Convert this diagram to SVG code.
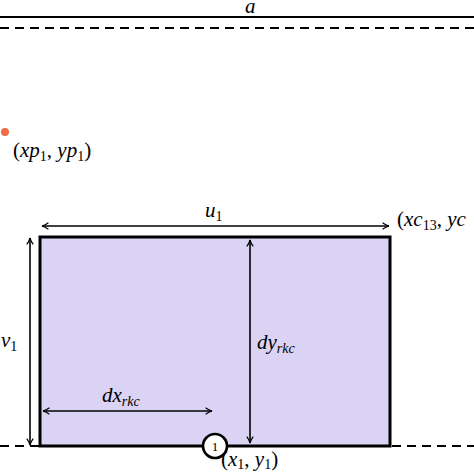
<svg xmlns="http://www.w3.org/2000/svg" width="474" height="474" viewBox="0 0 474 474">
<style>
.m{font-family:"Liberation Serif","DejaVu Serif",serif;font-style:italic;font-size:21px;fill:#000}
.u{font-style:normal}
.s{font-size:14px;font-style:normal}
.si{font-size:14px}
.dim{stroke:#000;stroke-width:1.6;fill:none}
.dash{stroke:#000;stroke-width:2.2;stroke-dasharray:9,6;fill:none}
</style>
<defs>
<marker id="ah" viewBox="0 0 10 10" refX="9" refY="5" markerWidth="8" markerHeight="8" orient="auto-start-reverse" markerUnits="userSpaceOnUse">
<path d="M1,1 Q5,4 9,5 Q5,6 1,9" fill="none" stroke="#000" stroke-width="1.5"/>
</marker>
</defs>
<rect width="474" height="474" fill="#fff"/>
<g id="lines">
<line x1="0" y1="17" x2="474" y2="17" stroke="#000" stroke-width="2"/>
<line x1="0" y1="28" x2="474" y2="28" class="dash"/>
<line x1="0" y1="446" x2="40" y2="446" class="dash"/>
<line x1="392" y1="446" x2="474" y2="446" class="dash"/>
</g>
<text class="m" x="245" y="13">a</text>
<g id="point-p1">
<circle cx="5" cy="132" r="4" fill="#ef6a45"/>
<text class="m" x="13" y="157"><tspan class="u">(</tspan>xp<tspan class="s" dy="4">1</tspan><tspan dy="-4" class="u">, </tspan>yp<tspan class="s" dy="4">1</tspan><tspan dy="-4" class="u">)</tspan></text>
</g>
<g id="rect1">
<rect x="40" y="237" width="350" height="209" fill="#dbd3f3" stroke="#000" stroke-width="3"/>
</g>
<g id="connectors">
<line class="dim" x1="42" y1="226" x2="389" y2="226" marker-start="url(#ah)" marker-end="url(#ah)"/>
<line class="dim" x1="30" y1="238" x2="30" y2="445" marker-start="url(#ah)" marker-end="url(#ah)"/>
<line class="dim" x1="250" y1="240" x2="250" y2="443" marker-start="url(#ah)" marker-end="url(#ah)"/>
<line class="dim" x1="43" y1="411" x2="212" y2="411" marker-start="url(#ah)" marker-end="url(#ah)"/>
</g>
<text class="m" x="205" y="217">u<tspan class="s" dy="4">1</tspan></text>
<text class="m" x="397" y="226"><tspan class="u">(</tspan>xc<tspan class="s" dy="4">13</tspan><tspan dy="-4" class="u">, </tspan>yc</text>
<text class="m" x="1" y="347">v<tspan class="s" dy="4">1</tspan></text>
<text class="m" x="257" y="349">dy<tspan class="si" dy="4">rkc</tspan></text>
<text class="m" x="102" y="402">dx<tspan class="si" dy="4">rkc</tspan></text>
<g id="node1">
<circle cx="215" cy="446" r="12" fill="#fff" stroke="#000" stroke-width="2.6"/>
<text x="215" y="451" text-anchor="middle" style="font-family:'Liberation Serif',serif;font-size:13px">1</text>
<text class="m" x="221" y="466"><tspan class="u">(</tspan>x<tspan class="s" dy="3">1</tspan><tspan dy="-3" class="u">, </tspan>y<tspan class="s" dy="3">1</tspan><tspan dy="-3" class="u">)</tspan></text>
</g>
</svg>
